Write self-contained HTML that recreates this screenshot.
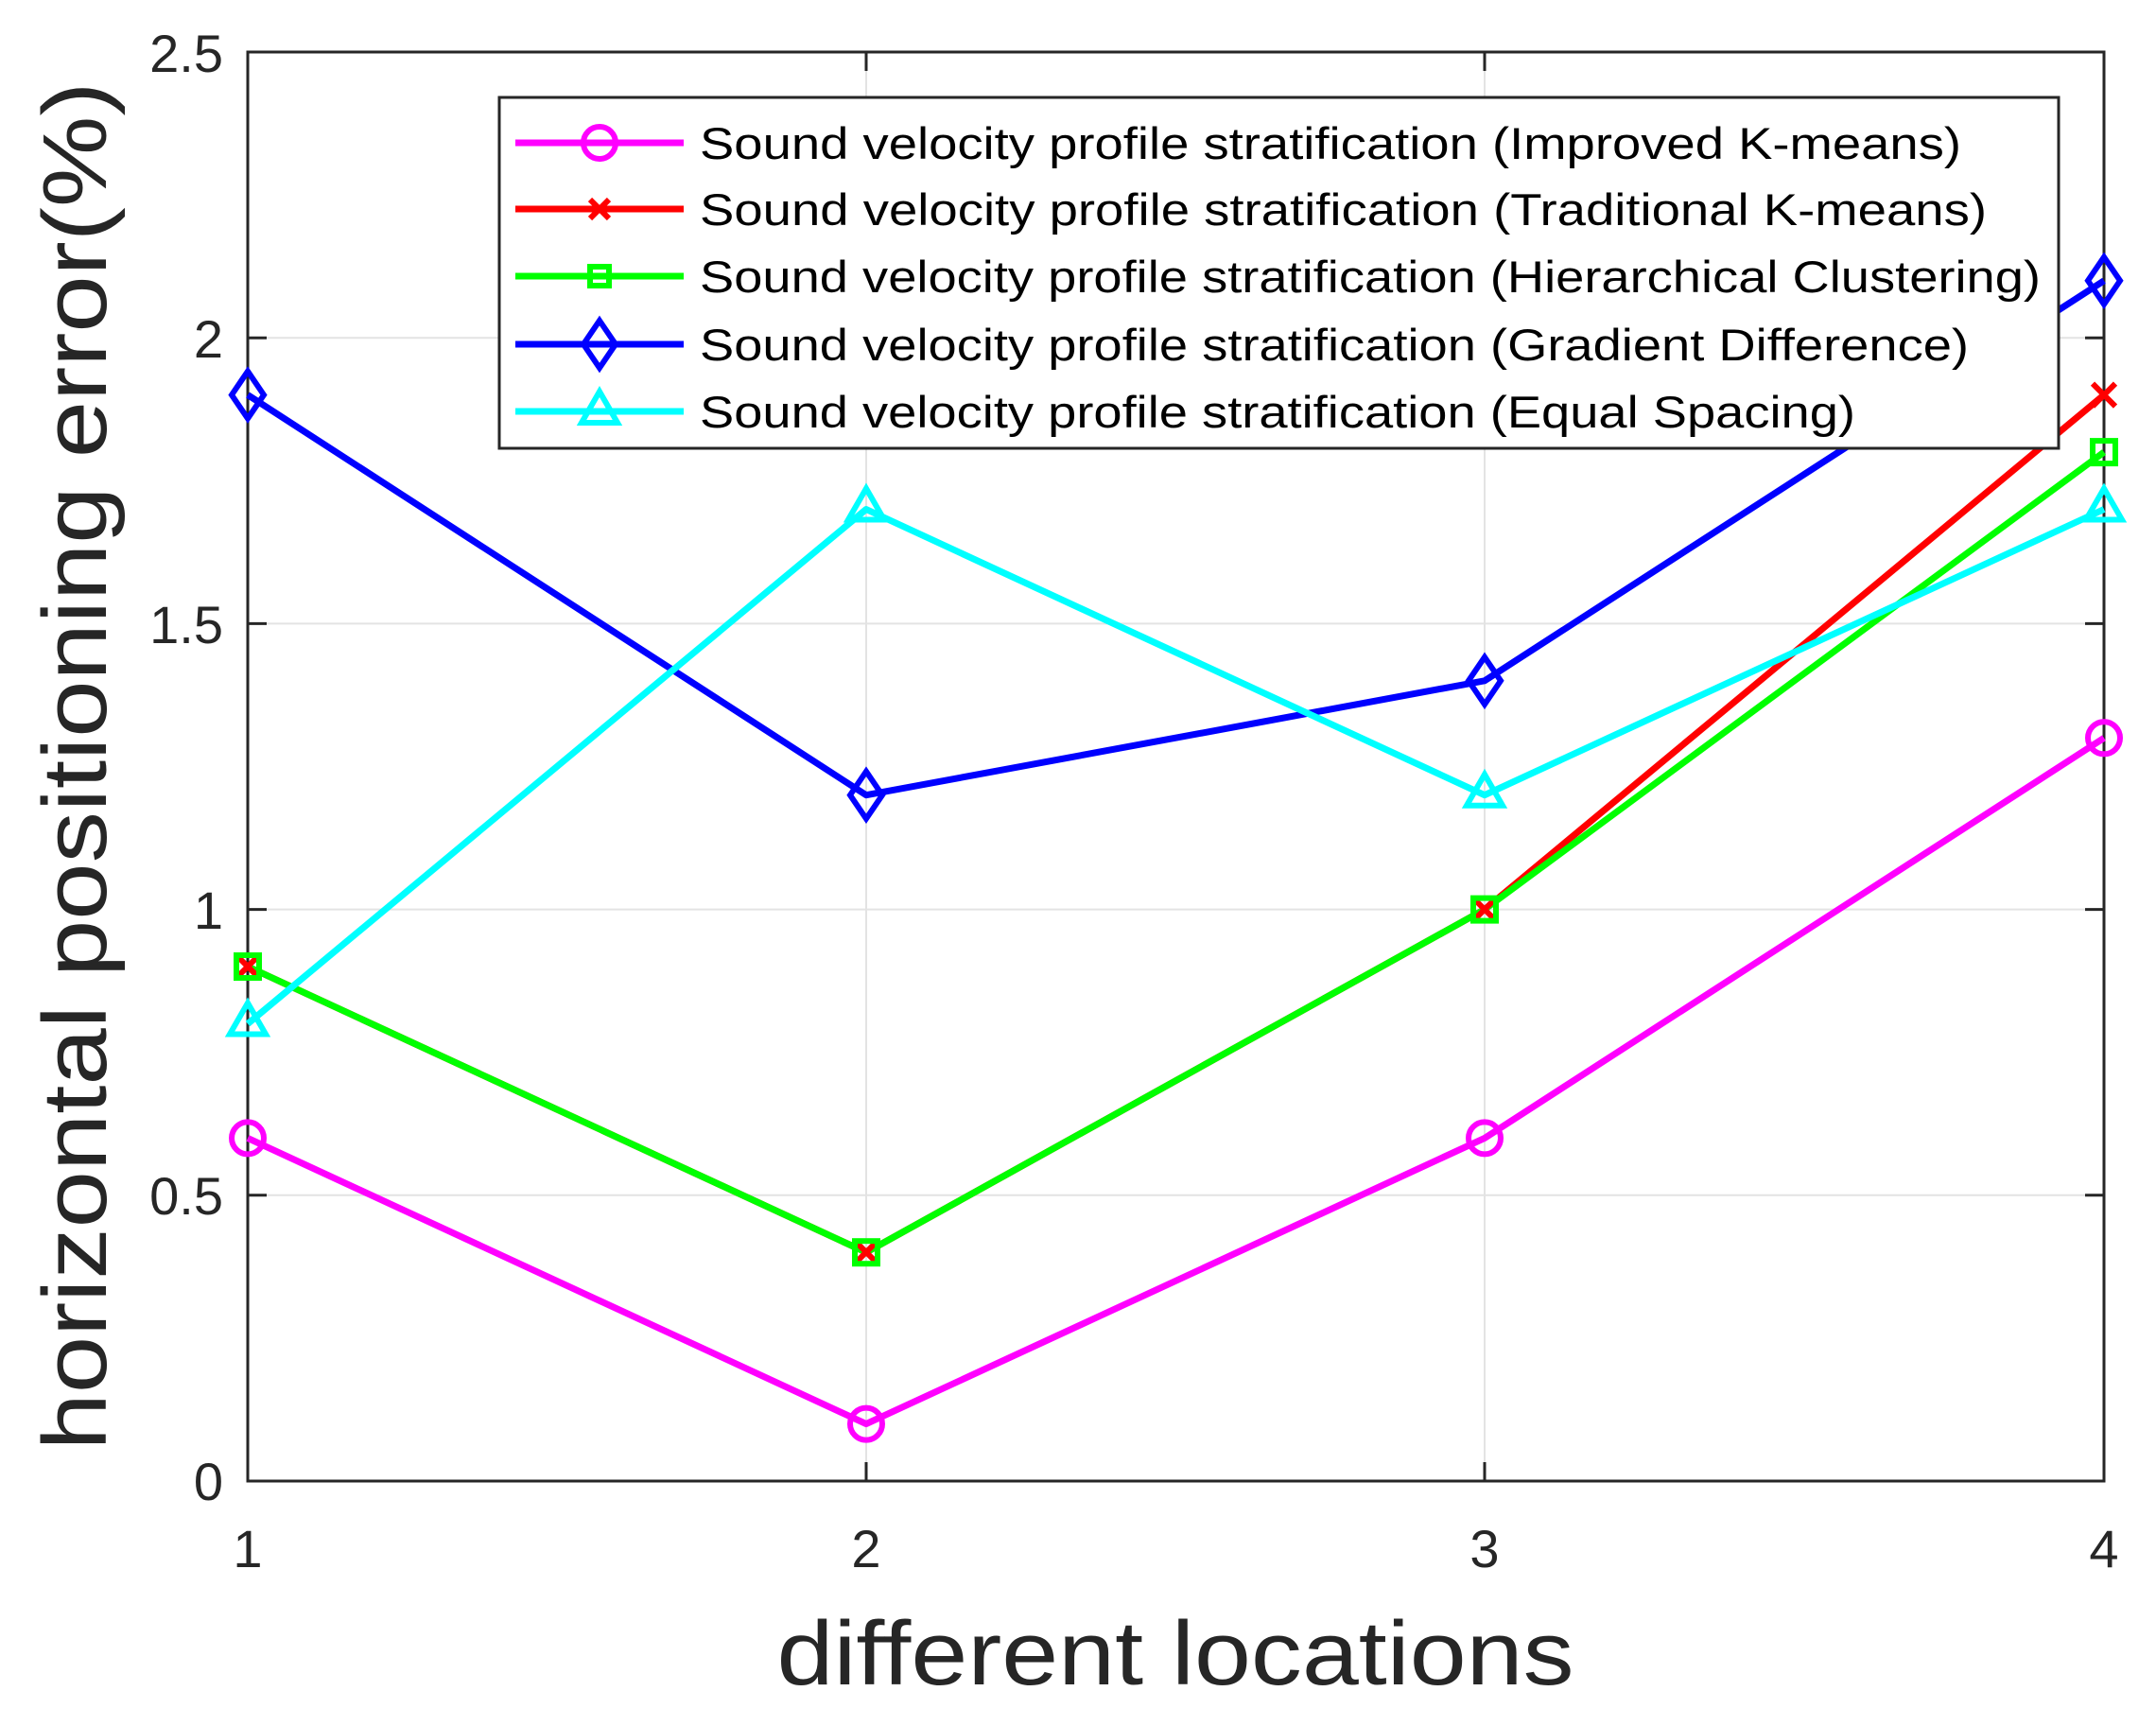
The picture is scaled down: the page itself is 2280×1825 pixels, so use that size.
<!DOCTYPE html>
<html><head><meta charset="utf-8"><style>html,body{margin:0;padding:0;background:#fff}</style></head>
<body>
<svg width="2280" height="1820" xmlns="http://www.w3.org/2000/svg" font-family="Liberation Sans, Arial, sans-serif">
<rect width="2280" height="1820" fill="#fff"/>
<g stroke="#e3e3e3" stroke-width="2">
<line x1="916" y1="55" x2="916" y2="1566"/><line x1="1570" y1="55" x2="1570" y2="1566"/>
<line x1="262" y1="1263.8" x2="2225" y2="1263.8"/><line x1="262" y1="961.6" x2="2225" y2="961.6"/>
<line x1="262" y1="659.4" x2="2225" y2="659.4"/><line x1="262" y1="357.2" x2="2225" y2="357.2"/>
</g>
<g stroke="#262626" stroke-width="3">
<rect x="262" y="55" width="1963" height="1511" fill="none"/>
<line x1="916" y1="1566" x2="916" y2="1546"/><line x1="1570" y1="1566" x2="1570" y2="1546"/>
<line x1="916" y1="55" x2="916" y2="75"/><line x1="1570" y1="55" x2="1570" y2="75"/>
<line x1="262" y1="1263.8" x2="282" y2="1263.8"/><line x1="262" y1="961.6" x2="282" y2="961.6"/><line x1="262" y1="659.4" x2="282" y2="659.4"/><line x1="262" y1="357.2" x2="282" y2="357.2"/>
<line x1="2225" y1="1263.8" x2="2205" y2="1263.8"/><line x1="2225" y1="961.6" x2="2205" y2="961.6"/><line x1="2225" y1="659.4" x2="2205" y2="659.4"/><line x1="2225" y1="357.2" x2="2205" y2="357.2"/>
</g>
<g font-size="56" fill="#262626" text-anchor="end">
<text x="236" y="1586">0</text><text x="236" y="1284">0.5</text><text x="236" y="982">1</text><text x="236" y="680">1.5</text><text x="236" y="378">2</text><text x="236" y="76">2.5</text>
</g>
<g font-size="56" fill="#262626" text-anchor="middle">
<text x="262" y="1657">1</text><text x="916" y="1657">2</text><text x="1570" y="1657">3</text><text x="2225" y="1657">4</text>
</g>
<text x="1243" y="1781" font-size="96" fill="#262626" text-anchor="middle" textLength="843" lengthAdjust="spacingAndGlyphs">different locations</text>
<text transform="translate(112,810) rotate(-90)" font-size="96" fill="#262626" text-anchor="middle" textLength="1447" lengthAdjust="spacingAndGlyphs">horizontal positioning error(%)</text>
<g fill="none" stroke-width="7" stroke-linejoin="round">
<polyline stroke="#ff00ff" points="262,1203.4 916,1505.6 1570,1203.4 2225,780.3"/>
<polyline stroke="#ff0000" points="262,1022 916,1324.2 1570,961.6 2225,417.6"/>
<polyline stroke="#00ff00" points="262,1022 916,1324.2 1570,961.6 2225,478.1"/>
<polyline stroke="#0000ff" points="262,417.6 916,840.7 1570,719.8 2225,296.8"/>
<polyline stroke="#00ffff" points="262,1082.5 916,538.5 1570,840.7 2225,538.5"/>
</g>
<g fill="none" stroke-width="6">
<g stroke="#ff00ff"><circle cx="262" cy="1203.4" r="17"/><circle cx="916" cy="1505.6" r="17"/><circle cx="1570" cy="1203.4" r="17"/><circle cx="2225" cy="780.3" r="17"/></g>
<g stroke="#ff0000"><path d="M2213,405.6l24,24M2237,405.6l-24,24M250,1010l24,24M274,1010l-24,24M904,1312l24,24M928,1312l-24,24M1558,949.6l24,24M1582,949.6l-24,24"/></g>
<g stroke="#00ff00"><rect x="250" y="1010" width="24" height="24"/><rect x="904" y="1312.2" width="24" height="24"/><rect x="1558" y="949.6" width="24" height="24"/><rect x="2213" y="466.1" width="24" height="24"/></g>
<g stroke="#0000ff"><path d="M262,392.6l17,25l-17,25l-17,-25zM916,815.7l17,25l-17,25l-17,-25zM1570,694.8l17,25l-17,25l-17,-25zM2225,271.8l17,25l-17,25l-17,-25z"/></g>
<g stroke="#00ffff"><path d="M262,1060.5l19,33h-38zM916,516.5l19,33h-38zM1570,818.7l19,33h-38zM2225,516.5l19,33h-38z"/></g>
</g>
<rect x="528" y="103" width="1649" height="371" fill="#fff" stroke="#262626" stroke-width="3"/>
<g stroke-width="7">
<line x1="545" y1="151" x2="723" y2="151" stroke="#ff00ff"/>
<line x1="545" y1="221" x2="723" y2="221" stroke="#ff0000"/>
<line x1="545" y1="292" x2="723" y2="292" stroke="#00ff00"/>
<line x1="545" y1="364" x2="723" y2="364" stroke="#0000ff"/>
<line x1="545" y1="435" x2="723" y2="435" stroke="#00ffff"/>
</g>
<g fill="none" stroke-width="6">
<circle cx="634" cy="151" r="17" stroke="#ff00ff"/>
<path d="M624,211l20,20M644,211l-20,20" stroke="#ff0000"/>
<rect x="624" y="282" width="20" height="20" stroke="#00ff00"/>
<path d="M634,339l17,25l-17,25l-17,-25z" stroke="#0000ff"/>
<path d="M634,414l19,33h-38z" stroke="#00ffff"/>
</g>
<g font-size="47" fill="#000">
<text x="740" y="168" textLength="1334" lengthAdjust="spacingAndGlyphs">Sound velocity profile stratification (Improved K-means)</text>
<text x="740" y="238" textLength="1361" lengthAdjust="spacingAndGlyphs">Sound velocity profile stratification (Traditional K-means)</text>
<text x="740" y="309" textLength="1418" lengthAdjust="spacingAndGlyphs">Sound velocity profile stratification (Hierarchical Clustering)</text>
<text x="740" y="381" textLength="1342" lengthAdjust="spacingAndGlyphs">Sound velocity profile stratification (Gradient Difference)</text>
<text x="740" y="452" textLength="1222" lengthAdjust="spacingAndGlyphs">Sound velocity profile stratification (Equal Spacing)</text>
</g>
</svg>
</body></html>
